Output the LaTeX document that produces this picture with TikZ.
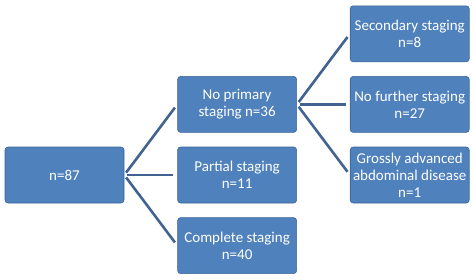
\documentclass[tikz,border=0pt]{standalone}
\usepackage{fontspec}
\setmainfont{Carlito}
\usepackage{xcolor}
\usetikzlibrary{arrows.meta,positioning}
\definecolor{boxblue}{RGB}{79,129,189}
\definecolor{boxedge}{RGB}{60,100,150}
\definecolor{linkblue}{RGB}{66,98,145}

\begin{document}
\begin{tikzpicture}[
	x=1pt, y=1pt,
	node distance=14pt and 53pt,
	box/.style={rectangle, draw=boxedge, line width=0.6pt, rounded corners=3pt, fill=boxblue, text=white, align=center, minimum width=119pt, minimum height=56pt, inner sep=1pt, font=\fontsize{15}{17}\selectfont},
	link/.style={draw=linkblue, line width=2.6pt, shorten <=3pt, shorten >=4pt}
	]
	\useasboundingbox (0,0) rectangle (474,-279);
	\node (root) [box] at (64.5,-175) {n=87};
	
	\node (partial) [box, right=of root] {Partial staging\\n=11};
	\node (noprim) [box, above=of partial] {No primary\\staging n=36};
	\node (complete) [box, below=of partial] {Complete staging\\n=40};
	
	\node (further) [box, right=of noprim] {No further staging\\n=27};
	\node (second) [box, above=of further] {Secondary staging\\n=8};
	\node (gross) [box, below=of further] {Grossly advanced\\abdominal disease\\n=1};
	
	\draw [link] (root.east) -- (noprim.west);
	\draw [link] (root.east) -- (partial.west);
	\draw [link] (root.east) -- (complete.west);
	\draw [link] (noprim.east) -- (second.west);
	\draw [link] (noprim.east) -- (further.west);
	\draw [link] (noprim.east) -- (gross.west);
\end{tikzpicture}
\end{document}
